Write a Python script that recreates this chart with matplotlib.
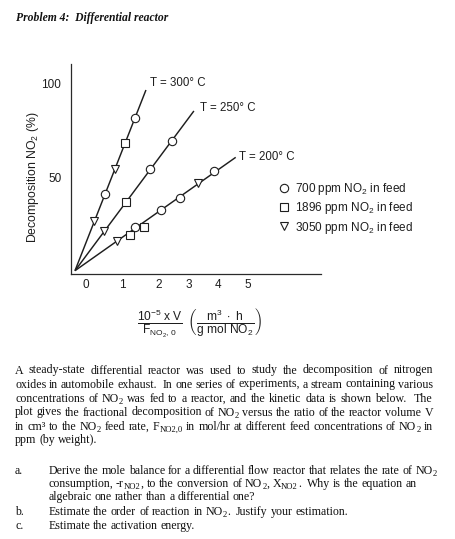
import re
import matplotlib
matplotlib.use('Agg')
import matplotlib.pyplot as plt
from matplotlib.lines import Line2D

plt.rcParams['mathtext.fontset'] = 'custom'
plt.rcParams['mathtext.rm'] = 'Liberation Sans'
plt.rcParams['mathtext.it'] = 'Liberation Sans:italic'
plt.rcParams['mathtext.bf'] = 'Liberation Sans:bold'
plt.rcParams['mathtext.default'] = 'rm'

# ---------------- data ----------------
temps = ['300', '250', '200']
line_end_x = [2.19, 3.67, 4.96]
line_end_y = [96.6, 85.4, 60.6]
temp_label_x = [2.32, 3.86, 5.07]
temp_label_y = [100.4, 87.2, 61.0]

feeds = ['700', '1896', '3050']

x_300_700 = [0.93, 1.85]
y_300_700 = [41.0, 81.5]
x_300_1896 = [1.55]
y_300_1896 = [68.4]
x_300_3050 = [0.60, 1.23]
y_300_3050 = [26.6, 54.2]

x_250_700 = [2.33, 2.98]
y_250_700 = [54.2, 69.4]
x_250_1896 = [1.57]
y_250_1896 = [36.6]
x_250_3050 = [0.91]
y_250_3050 = [21.1]

x_200_700 = [1.85, 2.64, 3.25, 4.30]
y_200_700 = [23.5, 32.5, 38.6, 53.3]
x_200_1896 = [1.69, 2.12]
y_200_1896 = [19.1, 23.1]
x_200_3050 = [1.31, 3.80]
y_200_3050 = [15.7, 47.1]

xtick_labels = ['0', '1', '2', '3', '4', '5']
ytick_labels = ['50', '100']
ytick_values = [50, 100]

# tick positions as drawn in the (distorted) original
xtick_pos = [0.34, 1.47, 2.59, 3.52, 4.41, 5.34]

title = 'Problem 4:  Differential reactor'
para_lines = [
    "A steady-state differential reactor was used to study the decomposition of nitrogen",
    "oxides in automobile exhaust.  In one series of experiments, a stream containing various",
    "concentrations of NO_{2} was fed to a reactor, and the kinetic data is shown below.  The",
    "plot gives the fractional decomposition of NO_{2} versus the ratio of the reactor volume V",
    "in cm\u00b3 to the NO_{2} feed rate, F_{NO2,0} in mol/hr at different feed concentrations of NO_{2} in",
    "ppm (by weight).",
]
list_marks = ['a.', 'b.', 'c.']
list_lines = [
    ["Derive the mole balance for a differential flow reactor that relates the rate of NO_{2}",
     "consumption, -r_{NO2}, to the conversion of NO_{2}, X_{NO2}.  Why is the equation an",
     "algebraic one rather than a differential one?"],
    ["Estimate the order of reaction in NO_{2}.  Justify your estimation."],
    ["Estimate the activation energy."],
]

# ---------------- figure ----------------
W, H = 455, 539
fig = plt.figure(figsize=(W / 100, H / 100), dpi=100)
fig.patch.set_facecolor('white')

def fx(x):
    return x / W

def fy(y):
    return 1 - y / H

ax = fig.add_axes([fx(71), fy(274.3), fx(320.7) - fx(71), fy(64) - fy(274.3)])
ax.set_xlim(-0.123, 7.583)
ax.set_ylim(-1.93, 110.5)
for s in ['top', 'right']:
    ax.spines[s].set_visible(False)
for s in ['left', 'bottom']:
    ax.spines[s].set_linewidth(0.9)
    ax.spines[s].set_color('#2a2a2a')

ink = '#1e1e1e'
sans = 'Liberation Sans'

# lines
for xe, ye in zip(line_end_x, line_end_y):
    ax.plot([0, xe], [0, ye], color=ink, lw=1.05, zorder=2, solid_capstyle='butt')

mk = dict(ls='none', mfc='white', mec=ink, mew=0.8, zorder=3)
circle_sets = [(x_300_700, y_300_700), (x_250_700, y_250_700), (x_200_700, y_200_700)]
square_sets = [(x_300_1896, y_300_1896), (x_250_1896, y_250_1896), (x_200_1896, y_200_1896)]
tri_sets = [(x_300_3050, y_300_3050), (x_250_3050, y_250_3050), (x_200_3050, y_200_3050)]
for xs, ys in circle_sets:
    ax.plot(xs, ys, marker='o', ms=6.0, **mk)
for xs, ys in square_sets:
    ax.plot(xs, ys, marker='s', ms=5.6, **mk)
for xs, ys in tri_sets:
    ax.plot(xs, ys, marker='v', ms=5.6, **mk)

for t, lx, ly in zip(temps, temp_label_x, temp_label_y):
    ax.text(lx, ly, 'T = %s\u00b0 C' % t, ha='left', va='center',
            fontsize=8.3, family=sans, color=ink)

ax.set_xticks(xtick_pos)
ax.set_xticklabels(xtick_labels)
ax.set_yticks(ytick_values)
ax.set_yticklabels(ytick_labels)
ax.tick_params(axis='both', length=0, labelsize=8.5, colors=ink)
ax.tick_params(axis='x', pad=3.2)
ax.tick_params(axis='y', pad=7)
for lab in ax.get_xticklabels() + ax.get_yticklabels():
    lab.set_family(sans)

# legend
handles = [
    Line2D([], [], marker='o', ms=6.0, **mk),
    Line2D([], [], marker='s', ms=5.6, **mk),
    Line2D([], [], marker='v', ms=5.6, **mk),
]
labels = ['%s ppm NO$_\\mathrm{2}$ in feed' % f for f in feeds]
leg = ax.legend(handles, labels, loc='upper left', bbox_to_anchor=(fx(279.5), fy(181.0)),
                bbox_transform=fig.transFigure, frameon=False, borderpad=0, borderaxespad=0,
                handlelength=0.8, handletextpad=0.55, labelspacing=0.28,
                prop={'family': sans, 'size': 8.5})
for txt in leg.get_texts():
    txt.set_color(ink)

# axis labels
fig.text(fx(33.3), fy(176.7), 'Decomposition NO$_\\mathrm{2}$ (%)', rotation=90,
         ha='center', va='center', fontsize=8.8, family=sans, color=ink)
fig.text(fx(199.5), fy(324), r'$\frac{10^{-5}\ \mathrm{x}\ \mathrm{V}}{\mathrm{F_{NO_2,\,0}}}\ \left(\frac{\mathrm{m^3\ \cdot\ h}}{\mathrm{g\ mol\ NO_2}}\right)$',
         ha='center', va='center', fontsize=12.3, family=sans, color=ink)

# ---------------- text block ----------------
serif = 'Liberation Serif'
txt_color = '#111111'
SIZE = 8.6
fig.text(fx(16), fy(21), title, ha='left', va='baseline', fontsize=8.4,
         family=serif, weight='bold', style='italic', color=txt_color)

renderer = fig.canvas.get_renderer()

def width_of(t):
    return t.get_window_extent(renderer).width

def make_token(tok, y_base, size=SIZE):
    """Create text pieces for one token; returns (pieces, width). pieces = [(text, dx)]."""
    parts = re.split(r'(_\{[^}]*\})', tok)
    pieces = []
    dx = 0.0
    for p in parts:
        if not p:
            continue
        if p.startswith('_{'):
            s = p[2:-1]
            sz = size * 0.72
            yoff = size * 0.2 * 100 / 72
        else:
            s = p
            sz = size
            yoff = 0.0
        t = fig.text(0, fy(y_base + yoff), s, ha='left', va='baseline', fontsize=sz,
                     family=[serif, 'DejaVu Serif'], color=txt_color)
        w = width_of(t)
        pieces.append((t, dx))
        dx += w
    return pieces, dx

def place(pieces, x):
    for t, dx in pieces:
        t.set_x(fx(x + dx))

probe1 = fig.text(0, 0, 'n n', fontsize=SIZE, family=serif)
probe2 = fig.text(0, 0, 'nn', fontsize=SIZE, family=serif)
SPACE = width_of(probe1) - width_of(probe2)
probe1.remove()
probe2.remove()

def draw_line(line, y_base, x0, x1=None):
    words = line.split(' ')
    toks = []
    for w in words:
        if w == '':
            toks.append(([], 0.0))
        else:
            toks.append(make_token(w, y_base))
    if x1 is None:
        gap = SPACE
    else:
        gap = (x1 - x0 - sum(w for _, w in toks)) / max(len(toks) - 1, 1)
    x = x0
    for pieces, w in toks:
        place(pieces, x)
        x += w + gap

base0 = 373.5
for i, line in enumerate(para_lines):
    yb = base0 + 14 * i
    if i < len(para_lines) - 1:
        draw_line(line, yb, 15.0, 433.0)
    else:
        draw_line(line, yb, 15.0)

item_bases = [[473.5, 487.0, 500.3], [515.0], [529.0]]
for mark, lines, bases in zip(list_marks, list_lines, item_bases):
    draw_line(mark, bases[0], 15.0)
    for line, yb in zip(lines, bases):
        draw_line(line, yb, 48.3)

fig.savefig('out.png', dpi=100, facecolor='white')
